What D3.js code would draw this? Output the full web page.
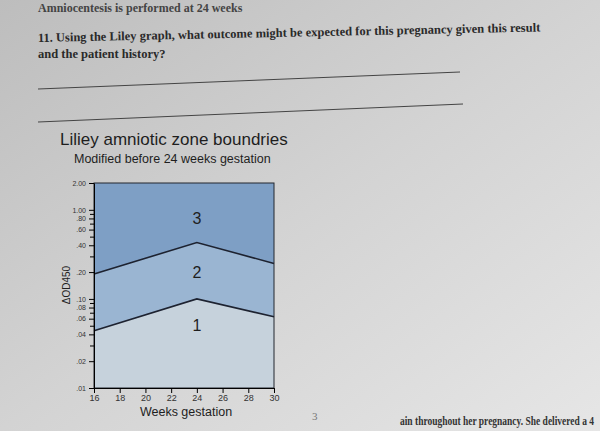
<!DOCTYPE html>
<html lang="en">
<head>
<meta charset="UTF-8">
<title>Liley chart</title>
<script src="https://d3js.org/d3.v7.min.js"></script>
<style>
  body { margin: 0; background: #c9c9c9; }
  svg { display: block; }
</style>
</head>
<body>
<div id="grafico"></div>
<script>
// data
const weeks = [16, 24, 30];
const lowerBoundary = [0.044, 0.10, 0.063];
const upperBoundary = [0.19, 0.43, 0.25];
const xTicks = [16, 18, 20, 22, 24, 26, 28, 30];
const yTicks = [0.01, 0.02, 0.04, 0.06, 0.08, 0.10, 0.20, 0.40, 0.60, 0.80, 1.00, 2.00];
const yTickLabels = [".01", ".02", ".04", ".06", ".08", ".10", ".20", ".40", ".60", ".80", "1.00", "2.00"];
const yMinor = [0.03, 0.05, 0.07, 0.09, 0.3, 0.5, 0.7, 0.9];
const zoneLabels = ["1", "2", "3"];
const zoneLabelValues = [0.05, 0.2, 0.8];

const width = 600, height = 431;
const svg = d3.select("#grafico").append("svg").attr("width", width).attr("height", height);

// paper background
const grad = svg.append("defs").append("linearGradient").attr("id", "paper").attr("x1", 0).attr("x2", 1).attr("y1", 0).attr("y2", 1);
grad.append("stop").attr("offset", "0%").attr("stop-color", "#bdbdbd");
grad.append("stop").attr("offset", "50%").attr("stop-color", "#d3d3d3");
grad.append("stop").attr("offset", "100%").attr("stop-color", "#e6e6e6");
svg.append("rect").attr("width", width).attr("height", height).attr("fill", "url(#paper)");

// worksheet text
const serif = "'Liberation Serif', 'DejaVu Serif', serif";
svg.append("text").attr("x", 38).attr("y", 12).attr("font-family", serif).attr("font-size", 12).attr("font-weight", "bold").attr("fill", "#444").text("Amniocentesis is performed at 24 weeks");
svg.append("text").attr("x", 38).attr("y", 42).attr("font-family", serif).attr("font-size", 12.5).attr("font-weight", "bold").attr("fill", "#2a2a2a")
  .attr("transform", "rotate(-1.2 38 42)")
  .text("11. Using the Liley graph, what outcome might be expected for this pregnancy given this result");
svg.append("text").attr("x", 38).attr("y", 58).attr("font-family", serif).attr("font-size", 12.5).attr("font-weight", "bold").attr("fill", "#2a2a2a").text("and the patient history?");
svg.append("line").attr("x1", 38).attr("y1", 89).attr("x2", 460).attr("y2", 72).attr("stroke", "#444").attr("stroke-width", 1);
svg.append("line").attr("x1", 38).attr("y1", 122).attr("x2", 463).attr("y2", 104).attr("stroke", "#444").attr("stroke-width", 1);
svg.append("text").attr("x", 400).attr("y", 425).attr("font-family", serif).attr("font-size", 11.5).attr("font-weight", "bold").attr("fill", "#333")
  .attr("textLength", 194).attr("lengthAdjust", "spacingAndGlyphs").text("ain throughout her pregnancy.  She delivered a 4");
svg.append("text").attr("x", 312).attr("y", 420).attr("font-family", serif).attr("font-size", 11).attr("fill", "#777").text("3");

// chart
const sans = "Arial, 'Liberation Sans', sans-serif";
const x = d3.scaleLinear().domain([16, 30]).range([94, 274]);
const y = d3.scaleLog().domain([0.01, 2]).range([388, 183]);

svg.append("text").attr("x", 60).attr("y", 145).attr("font-family", sans).attr("font-size", 17).attr("fill", "#1e1e1e").text("Liliey amniotic zone boundries");
svg.append("text").attr("x", 74).attr("y", 163).attr("font-family", sans).attr("font-size", 12.5).attr("fill", "#1e1e1e").text("Modified before 24 weeks gestation");

const topEdge = weeks.map(() => 2);
const bottomEdge = weeks.map(() => 0.01);
const area = (hi, lo) => d3.area().x((d, i) => x(weeks[i])).y0((d, i) => y(lo[i])).y1((d, i) => y(hi[i]))(weeks);
svg.append("path").attr("d", area(topEdge, upperBoundary)).attr("fill", "#7e9fc5");
svg.append("path").attr("d", area(upperBoundary, lowerBoundary)).attr("fill", "#9ab5d2");
svg.append("path").attr("d", area(lowerBoundary, bottomEdge)).attr("fill", "#c6d2dc");

const line = d3.line().x((d, i) => x(weeks[i])).y(d => y(d));
[lowerBoundary, upperBoundary].forEach(b => {
  svg.append("path").attr("d", line(b)).attr("fill", "none").attr("stroke", "#1d2230").attr("stroke-width", 1.6);
});
svg.append("rect").attr("x", x(16)).attr("y", y(2)).attr("width", x(30) - x(16)).attr("height", y(0.01) - y(2))
  .attr("fill", "none").attr("stroke", "#23272e").attr("stroke-width", 1);

zoneLabels.forEach((t, i) => {
  svg.append("text").attr("x", x(24)).attr("y", y(zoneLabelValues[i])).attr("text-anchor", "middle").attr("dy", "0.35em")
    .attr("font-family", sans).attr("font-size", 16).attr("fill", "#1e1e1e").text(t);
});

// axes
const yAxis = svg.append("g").attr("transform", `translate(${x(16)},0)`)
  .call(d3.axisLeft(y).tickValues(yTicks).tickFormat((d, i) => yTickLabels[i]).tickSize(5).tickSizeOuter(0));
svg.append("g").attr("transform", `translate(${x(16)},0)`)
  .call(d3.axisLeft(y).tickValues(yMinor).tickFormat("").tickSize(4).tickSizeOuter(0))
  .select(".domain").remove();
yAxis.selectAll("text").attr("font-family", sans).attr("font-size", 7).attr("fill", "#333");

const xAxis = svg.append("g").attr("transform", `translate(0,${y(0.01)})`)
  .call(d3.axisBottom(x).tickValues(xTicks).tickSize(5).tickSizeOuter(0));
xAxis.selectAll("text").attr("font-family", sans).attr("font-size", 9).attr("fill", "#333").attr("dy", "0.6em");

svg.append("text").attr("x", 186).attr("y", 416).attr("text-anchor", "middle").attr("font-family", sans).attr("font-size", 12.5).attr("fill", "#1e1e1e").text("Weeks gestation");
svg.append("text").attr("transform", "translate(70,285) rotate(-90)").attr("text-anchor", "middle").attr("font-family", sans).attr("font-size", 10).attr("fill", "#1e1e1e").text("ΔOD450");
</script>
</body>
</html>
